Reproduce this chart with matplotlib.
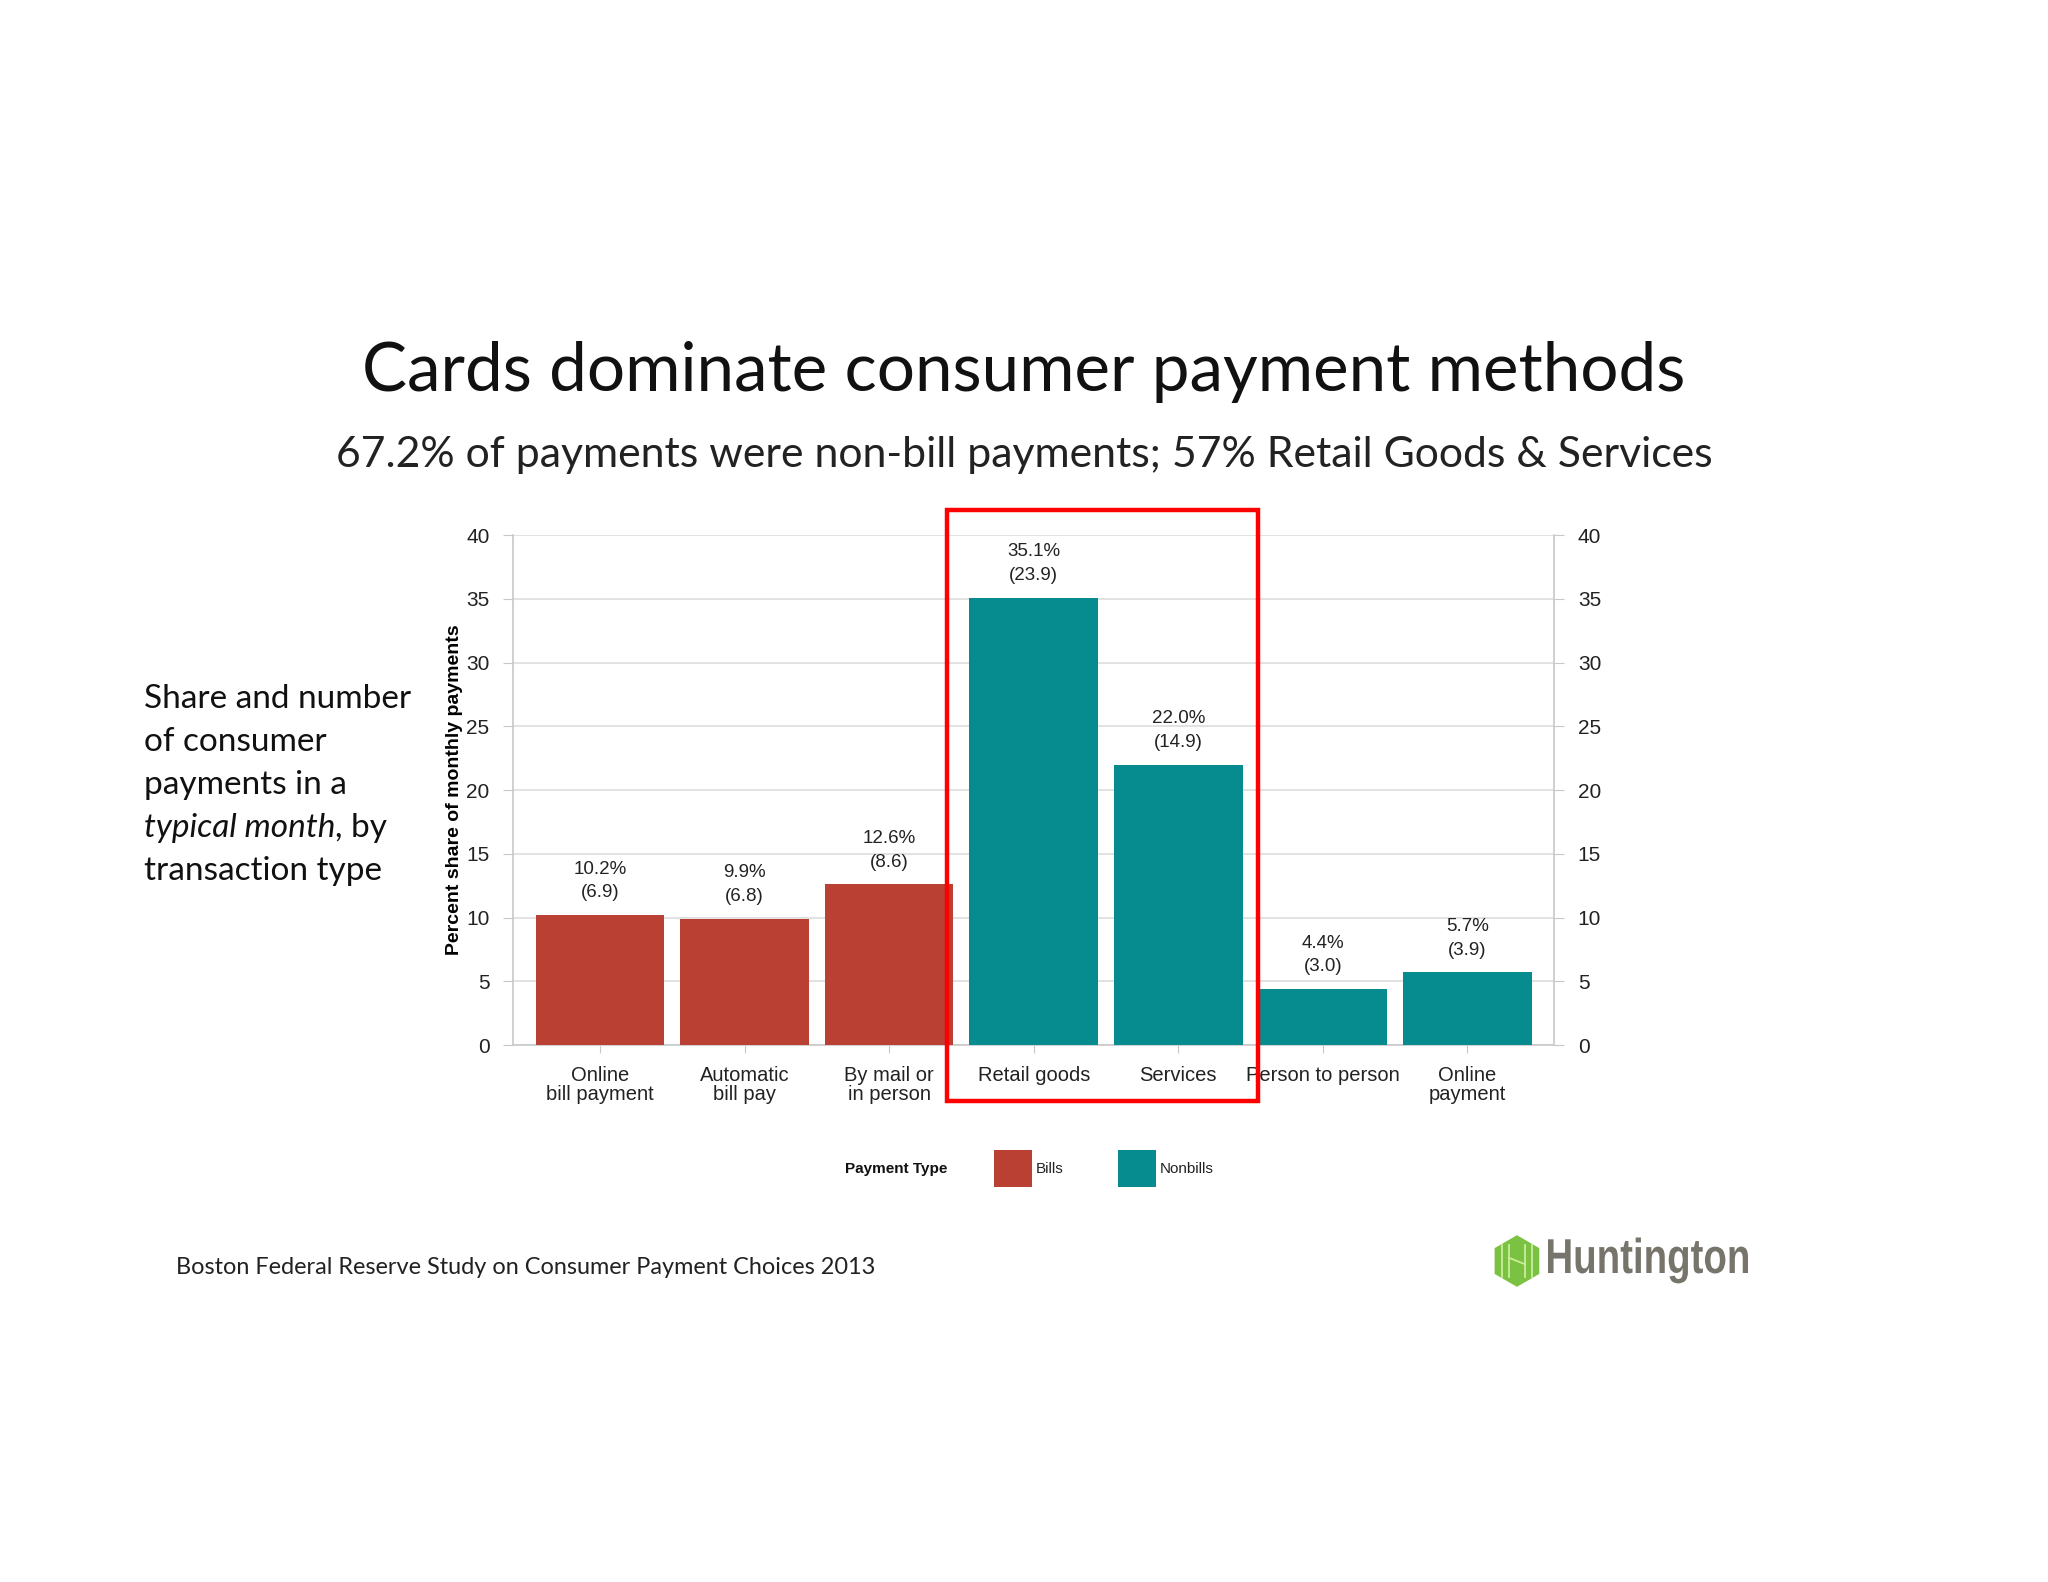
import numpy as np
import matplotlib
matplotlib.use("Agg")
import matplotlib.pyplot as plt
from matplotlib.patches import Rectangle, RegularPolygon, PathPatch
from matplotlib.textpath import TextPath
from matplotlib.font_manager import FontProperties
import matplotlib.transforms as mtransforms

# data
categories = ["Online\nbill payment", "Automatic\nbill pay", "By mail or\nin person",
              "Retail goods", "Services", "Person to person", "Online\npayment"]
share = [10.2, 9.9, 12.6, 35.1, 22.0, 4.4, 5.7]
number = [6.9, 6.8, 8.6, 23.9, 14.9, 3.0, 3.9]
ptype = ["Bills", "Bills", "Bills", "Nonbills", "Nonbills", "Nonbills", "Nonbills"]
yticks = [0, 5, 10, 15, 20, 25, 30, 35, 40]

colors = {"Bills": "#b94032", "Nonbills": "#068c8e"}
bar_font = "Liberation Sans"
slide_font = "Lato"

fig = plt.figure(figsize=(20.48, 15.82), dpi=100)
fig.patch.set_facecolor("white")

ax = fig.add_axes([0.2506, 0.3394, 0.5083, 0.3224])
x = np.arange(len(categories))
ax.bar(x, share, width=0.89, color=[colors[p] for p in ptype], zorder=3)
ax.set_xlim(-0.6, 6.6)
ax.set_ylim(0, 40)
ax.set_yticks(yticks)
ax.set_xticks(x)
ax.set_xticklabels(categories, fontsize=14.5, family=bar_font, color="#222222", linespacing=1.0)
ax.grid(axis="y", color="#dddddd", lw=1.2, zorder=0)
for s in ["left", "right", "bottom"]:
    ax.spines[s].set_color("#c8c8c8")
    ax.spines[s].set_linewidth(1.2)
ax.spines["top"].set_visible(False)
ax.tick_params(axis="y", which="both", left=True, right=True, labelleft=True, labelright=True,
               length=7, color="#c8c8c8", labelsize=15, pad=10, labelcolor="#222222")
ax.tick_params(axis="x", length=6, color="#c8c8c8", pad=9)
for lab in ax.get_yticklabels():
    lab.set_family(bar_font)
ax.set_ylabel("Percent share of monthly payments", fontsize=14, fontweight="bold",
              family=bar_font, labelpad=2)

# value labels
for xi, s, n in zip(x, share, number):
    ax.annotate("%.1f%%\n(%.1f)" % (s, n), (xi, s), xytext=(0, 10), textcoords="offset points",
                ha="center", va="bottom", fontsize=13.5, family=bar_font, color="#222222",
                linespacing=1.5)

# red highlight box around retail goods + services
trans = mtransforms.blended_transform_factory(ax.transData, ax.transAxes)
ax.add_patch(Rectangle((2.4, -0.11), 2.15, 1.159, transform=trans, fill=False,
                       edgecolor="#ff0000", lw=3.2, clip_on=False, zorder=10))

# titles
fig.text(0.5, 0.7647, "Cards dominate consumer payment methods", ha="center", va="center",
         fontsize=48.5, family=slide_font, color="#111111")
fig.text(0.5, 0.7126, "67.2% of payments were non-bill payments; 57% Retail Goods & Services",
         ha="center", va="center", fontsize=30.8, family=slide_font, color="#222222")

# left side note
side_lines = ["Share and number", "of consumer", "payments in a"]
y0 = 0.558
dy = 0.0272
for i, line in enumerate(side_lines):
    fig.text(0.0702, y0 - i * dy, line, ha="left", va="center", fontsize=24,
             family=slide_font, color="#111111")
t_it = fig.text(0.0702, y0 - 3 * dy, "typical month", ha="left", va="center", fontsize=24,
                family=slide_font, style="italic", color="#111111")
plt.annotate(", by", xy=(1, 0), xycoords=t_it, ha="left", va="bottom", fontsize=24,
             family=slide_font, color="#111111", annotation_clip=False)
fig.text(0.0702, y0 - 4 * dy, "transaction type", ha="left", va="center", fontsize=24,
         family=slide_font, color="#111111")

# legend
fig.text(0.4375, 0.261, "Payment Type", ha="center", va="center", fontsize=11,
         fontweight="bold", family=bar_font, color="#111111")
fig.patches.append(Rectangle((0.4853, 0.2494), 0.0185, 0.0239, transform=fig.transFigure,
                             facecolor=colors["Bills"], edgecolor="none"))
fig.text(0.5057, 0.261, "Bills", ha="left", va="center", fontsize=11, family=bar_font,
         color="#222222")
fig.patches.append(Rectangle((0.5459, 0.2494), 0.0185, 0.0239, transform=fig.transFigure,
                             facecolor=colors["Nonbills"], edgecolor="none"))
fig.text(0.5663, 0.261, "Nonbills", ha="left", va="center", fontsize=11, family=bar_font,
         color="#222222")

# source
fig.text(0.0861, 0.199, "Boston Federal Reserve Study on Consumer Payment Choices 2013",
         ha="left", va="center", fontsize=16.9, family=slide_font, color="#222222")

# logo: green hexagon + condensed grey word
lax = fig.add_axes([0.7407 - 0.02, 0.2029 - 0.02 * 2048 / 1582, 0.04, 0.04 * 2048 / 1582])
lax.set_xlim(-1, 1)
lax.set_ylim(-1, 1)
lax.axis("off")
lax.add_patch(RegularPolygon((0, 0), 6, radius=0.63, orientation=0, facecolor="#7cc242",
                             edgecolor="none"))
for xs in [-0.36, -0.2, 0.2, 0.36]:
    lax.plot([xs, xs], [-0.38, 0.38], color="#c9ee9a", lw=1.3)
lax.plot([-0.2, 0.2], [0.08, -0.08], color="#c9ee9a", lw=1.3)

tp = TextPath((0, 0), "Huntington", size=49,
              prop=FontProperties(family="Liberation Sans", weight="bold"))
bb = tp.get_extents()
sx = 200.0 / bb.width
logo_tr = mtransforms.Affine2D().translate(-bb.x0, 0).scale(sx, 1).translate(1548, 1582 - 1273)
fig.add_artist(PathPatch(tp, transform=logo_tr, facecolor="#77746b", edgecolor="none"))

fig.savefig("out.png", dpi=100, facecolor="white")
